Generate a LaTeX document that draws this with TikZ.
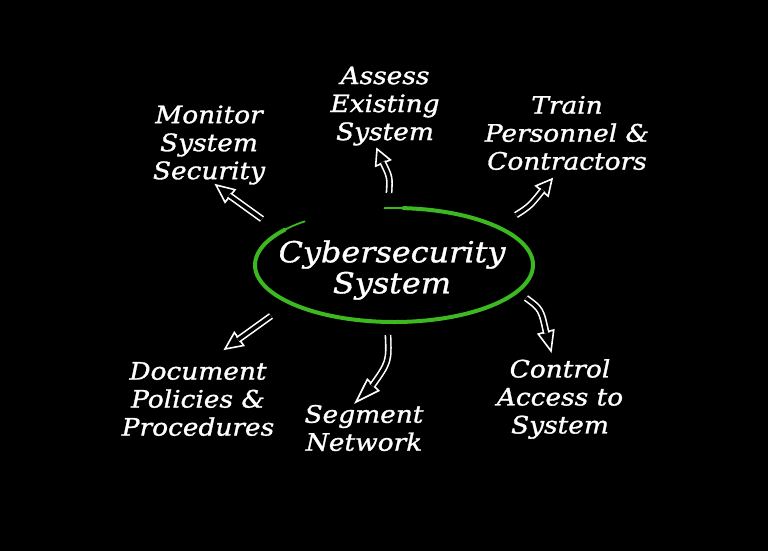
\documentclass[tikz,border=0pt]{standalone}
\usepackage{fontspec}
\newfontfamily\hand{DejaVu Serif}[FakeStretch=1.1,FakeBold=1.2]
\usetikzlibrary{calc}
\definecolor{ringgreen}{HTML}{3CB820}
\tikzset{
  lbl/.style={text=white, align=center, inner sep=0pt,
    font=\hand\itshape\fontsize{24}{28}\selectfont},
  title/.style={text=white, align=center, inner sep=0pt,
    font=\hand\itshape\fontsize{29}{31}\selectfont},
  ring/.style={draw=ringgreen, line width=4pt, line cap=round},
  ringtip/.style={draw=ringgreen, line width=1.8pt, line cap=round},
  arrowshaft/.style={draw=white, line width=1.6pt, double=black, double distance=3.6pt},
  arrowhead/.style={draw=white, fill=black, line width=1.6pt, line join=miter},
}
\newcommand{\headat}[2]{%
  \draw[arrowhead] (#2) -- ($(#1)!8pt!90:(#2)$) -- ($(#1)!8pt!-90:(#2)$) -- cycle;}
\begin{document}
\begin{tikzpicture}[x=1pt,y=-1pt]
\fill[black] (0,0) rectangle (768,551);
\useasboundingbox (0,0) rectangle (768,551);

% texts
\node[title] (cyb) at (392,270) {Cybersecurity\\System};
\node[lbl] (mon) at (209,145) {Monitor\\System\\Security};
\node[lbl] (ass) at (385,106) {Assess\\Existing\\System};
\node[lbl] (tra) at (567,133) {Train\\Personnel \&\\Contractors};
\node[lbl] (doc) at (198,399) {Document\\Policies \&\\Procedures};
\node[lbl] (seg) at (364,428) {Segment\\Network};
\node[lbl] (con) at (560,399) {Control\\Access to\\System};

% green hand-drawn ring (tapered ends)
\coordinate (rc) at (394,265);
\draw[ringtip] (rc) ++(266:139 and 57) arc[start angle=266, end angle=276, x radius=139, y radius=57];
\draw[ring] (rc) ++(274:139 and 57) arc[start angle=274, end angle=578, x radius=139, y radius=57];
\draw[ringtip] (rc) ++(576:139 and 57) arc[start angle=576, end angle=590, x radius=139, y radius=57];

% arrow geometry: tail, base, tip
\coordinate (monT) at (262,219); \coordinate (monB) at (230,196); \coordinate (monP) at (216,185);
\coordinate (assT) at (389,193); \coordinate (assB) at (383,163); \coordinate (assP) at (377,149);
\coordinate (traT) at (516,215); \coordinate (traB) at (542,191); \coordinate (traP) at (552,179);
\coordinate (docT) at (271,316); \coordinate (docB) at (239,339); \coordinate (docP) at (225,349);
\coordinate (segT) at (388,335); \coordinate (segB) at (373,385); \coordinate (segP) at (356,402);
\coordinate (conT) at (526,298); \coordinate (conB) at (546,332); \coordinate (conP) at (551,351);

% heads
\headat{monB}{monP}
\headat{assB}{assP}
\headat{traB}{traP}
\headat{docB}{docP}
\headat{segB}{segP}
\headat{conB}{conP}

% shafts (slightly into the head to open its base)
\draw[arrowshaft] (monT) -- ($(monB)!1.2pt!(monP)$);
\draw[arrowshaft] (assT) .. controls (390,177) .. ($(assB)!1.2pt!(assP)$);
\draw[arrowshaft] (traT) .. controls (530,206) .. ($(traB)!1.2pt!(traP)$);
\draw[arrowshaft] (docT) -- ($(docB)!1.2pt!(docP)$);
\draw[arrowshaft] (segT) .. controls (389,362) .. ($(segB)!1.2pt!(segP)$);
\draw[arrowshaft] (conT) .. controls (541,309) .. ($(conB)!1.2pt!(conP)$);
\end{tikzpicture}
\end{document}
